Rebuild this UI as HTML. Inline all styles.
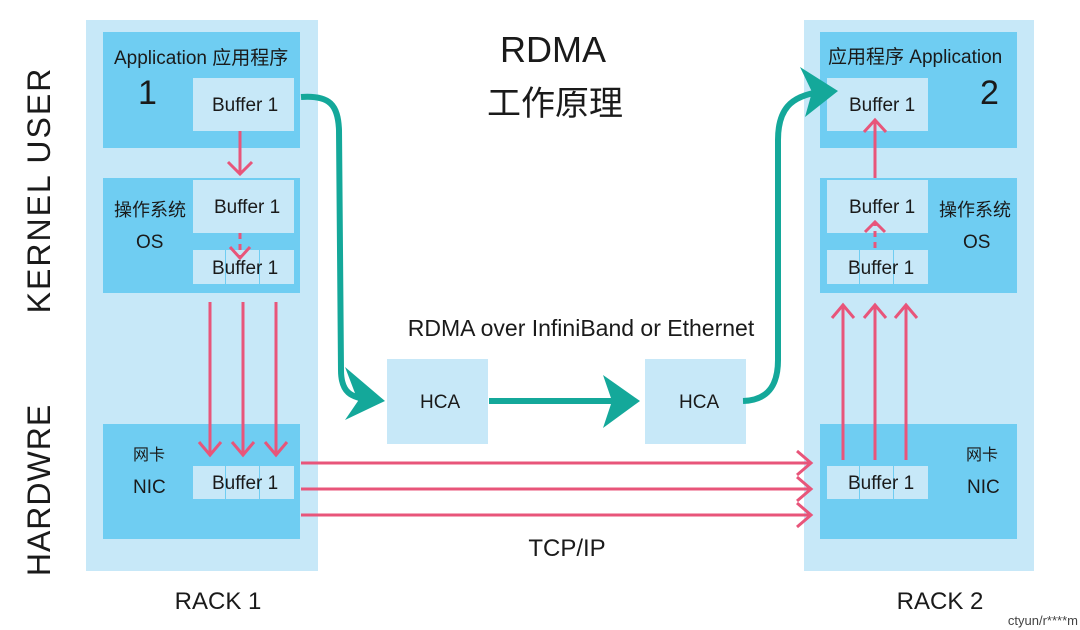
<!DOCTYPE html>
<html><head><meta charset="utf-8"><style>
html,body{margin:0;padding:0;background:#fff;width:1080px;height:630px;overflow:hidden}
text{font-family:"Liberation Sans","Noto Sans CJK SC",sans-serif;fill:#1a1a1a}
</style></head><body>
<svg width="1080" height="630" viewBox="0 0 1080 630" xmlns="http://www.w3.org/2000/svg">
<!-- racks -->
<rect x="86" y="20" width="232" height="551" fill="#c7e8f8"/>
<rect x="804" y="20" width="230" height="551" fill="#c7e8f8"/>
<!-- rack1 inner -->
<rect x="103" y="32" width="197" height="116" fill="#6fcdf2"/>
<rect x="103" y="178" width="197" height="115" fill="#6fcdf2"/>
<rect x="103" y="424" width="197" height="115" fill="#6fcdf2"/>
<rect x="193" y="78" width="101" height="53" fill="#c7e8f8"/>
<rect x="193" y="180" width="101" height="53" fill="#c7e8f8"/>
<rect x="193" y="250" width="32" height="34" fill="#c7e8f8"/>
<rect x="226" y="250" width="33" height="34" fill="#c7e8f8"/>
<rect x="260" y="250" width="34" height="34" fill="#c7e8f8"/>
<rect x="193" y="466" width="32" height="33" fill="#c7e8f8"/>
<rect x="226" y="466" width="33" height="33" fill="#c7e8f8"/>
<rect x="260" y="466" width="34" height="33" fill="#c7e8f8"/>
<!-- rack2 inner -->
<rect x="820" y="32" width="197" height="116" fill="#6fcdf2"/>
<rect x="820" y="178" width="197" height="115" fill="#6fcdf2"/>
<rect x="820" y="424" width="197" height="115" fill="#6fcdf2"/>
<rect x="827" y="78" width="101" height="53" fill="#c7e8f8"/>
<rect x="827" y="180" width="101" height="53" fill="#c7e8f8"/>
<rect x="827" y="250" width="32" height="34" fill="#c7e8f8"/>
<rect x="860" y="250" width="33" height="34" fill="#c7e8f8"/>
<rect x="894" y="250" width="34" height="34" fill="#c7e8f8"/>
<rect x="827" y="466" width="32" height="33" fill="#c7e8f8"/>
<rect x="860" y="466" width="33" height="33" fill="#c7e8f8"/>
<rect x="894" y="466" width="34" height="33" fill="#c7e8f8"/>
<!-- HCA -->
<rect x="387" y="359" width="101" height="85" fill="#c7e8f8"/>
<rect x="645" y="359" width="101" height="85" fill="#c7e8f8"/>
<!-- pink arrows -->
<g stroke="#e8557a" stroke-width="3" fill="none" stroke-linejoin="miter">
<line x1="240" y1="131" x2="240" y2="174"/><polyline points="228,162 240,174 252,162"/>
<line x1="240" y1="233" x2="240" y2="258" stroke-dasharray="6,5"/><polyline points="230,247 240,258 250,247"/>
<line x1="210" y1="302" x2="210" y2="455"/><polyline points="199,442 210,455 221,442"/>
<line x1="243" y1="302" x2="243" y2="455"/><polyline points="232,442 243,455 254,442"/>
<line x1="276" y1="302" x2="276" y2="455"/><polyline points="265,442 276,455 287,442"/>
<line x1="301" y1="463" x2="811" y2="463"/><polyline points="797,451 811,463 797,475"/>
<line x1="301" y1="489" x2="811" y2="489"/><polyline points="797,477 811,489 797,501"/>
<line x1="301" y1="515" x2="811" y2="515"/><polyline points="797,503 811,515 797,527"/>
<line x1="843" y1="460" x2="843" y2="305"/><polyline points="832,318 843,305 854,318"/>
<line x1="875" y1="460" x2="875" y2="305"/><polyline points="864,318 875,305 886,318"/>
<line x1="906" y1="460" x2="906" y2="305"/><polyline points="895,318 906,305 917,318"/>
<line x1="875" y1="178" x2="875" y2="120"/><polyline points="864,132 875,120 886,132"/>
<line x1="875" y1="248" x2="875" y2="222" stroke-dasharray="6,5"/><polyline points="865,232 875,222 885,232"/>
</g>
<!-- green arrows -->
<g stroke="#14a89a" stroke-width="6" fill="none">
<path d="M301,97 C330,95 338,105 339,130 L341,370 C341,392 350,398 372,400"/>
<line x1="489" y1="401" x2="615" y2="401"/>
<path d="M743,401 C772,400 778,380 778,360 L778,140 C778,110 790,96 820,92"/>
</g>
<g fill="#14a89a">
<path d="M385,401 L345,367 L358,401 L345,420 Z"/>
<path d="M640,401 L603,375 L612,401 L603,428 Z"/>
<path d="M838,91 L800,67 L812,92 L805,117 Z"/>
</g>
<!-- text -->
<text x="114" y="64" font-size="19">Application 应用程序</text>
<text x="138" y="104" font-size="34">1</text>
<text x="212" y="111" font-size="19">Buffer 1</text>
<text x="114" y="216" font-size="18">操作系统</text>
<text x="136" y="248" font-size="19">OS</text>
<text x="214" y="213" font-size="19">Buffer 1</text>
<text x="212" y="274" font-size="19">Buffer 1</text>
<text x="133" y="460" font-size="16">网卡</text>
<text x="133" y="493" font-size="19">NIC</text>
<text x="212" y="489" font-size="19">Buffer 1</text>
<text x="828" y="63" font-size="19">应用程序 Application</text>
<text x="980" y="104" font-size="34">2</text>
<text x="849" y="111" font-size="19">Buffer 1</text>
<text x="849" y="213" font-size="19">Buffer 1</text>
<text x="848" y="274" font-size="19">Buffer 1</text>
<text x="939" y="216" font-size="18">操作系统</text>
<text x="963" y="248" font-size="19">OS</text>
<text x="966" y="460" font-size="16">网卡</text>
<text x="967" y="493" font-size="19">NIC</text>
<text x="848" y="489" font-size="19">Buffer 1</text>
<text x="420" y="408" font-size="19">HCA</text>
<text x="679" y="408" font-size="19">HCA</text>
<text x="553" y="62" font-size="36" text-anchor="middle">RDMA</text>
<text x="555" y="115" font-size="34" text-anchor="middle">工作原理</text>
<text x="581" y="336" font-size="23" text-anchor="middle">RDMA over InfiniBand or Ethernet</text>
<text x="567" y="556" font-size="24" text-anchor="middle">TCP/IP</text>
<text x="218" y="609" font-size="24" text-anchor="middle">RACK 1</text>
<text x="940" y="609" font-size="24" text-anchor="middle">RACK 2</text>
<text transform="translate(50,190) rotate(-90)" font-size="32" text-anchor="middle" letter-spacing="2">KERNEL USER</text>
<text transform="translate(50,490) rotate(-90)" font-size="32" text-anchor="middle" letter-spacing="1">HARDWRE</text>
<text x="1078" y="625" font-size="13" text-anchor="end" style="fill:#444">ctyun/r****m</text>
</svg>
</body></html>
